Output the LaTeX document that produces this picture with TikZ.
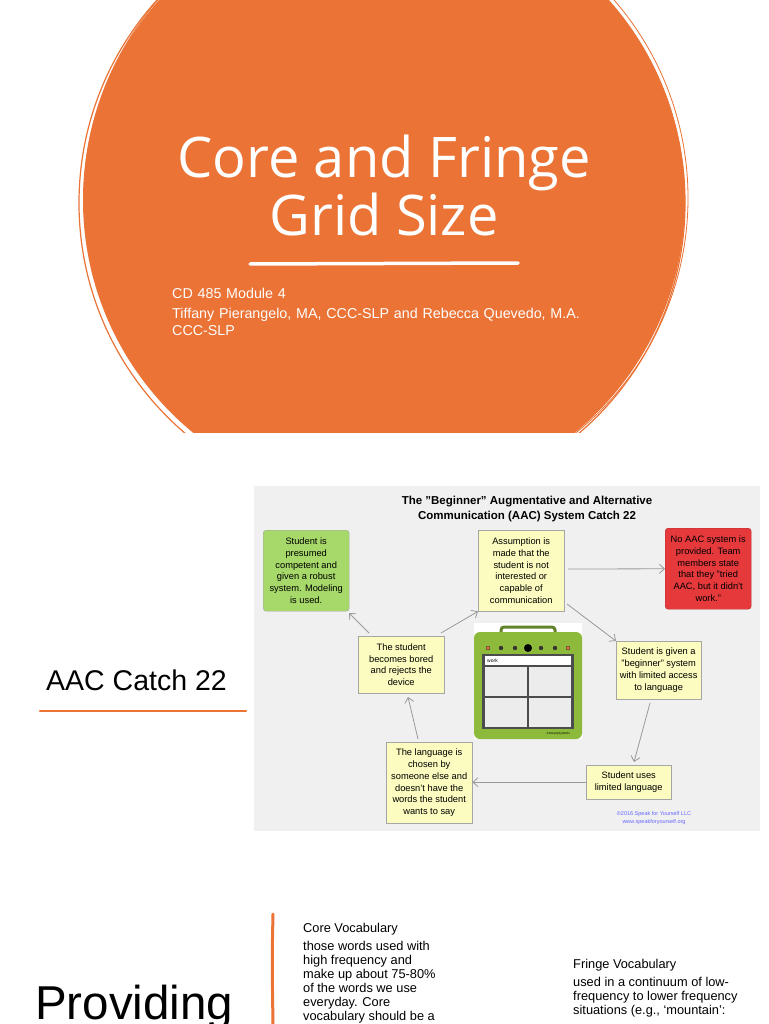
\documentclass[tikz,border=0pt]{standalone}
\usepackage{fontspec}
\setmainfont{Liberation Sans}
\newfontfamily\titlefont{Open Sans}
\usetikzlibrary{arrows.meta}
\definecolor{org}{HTML}{EA7335}
\definecolor{bx}{HTML}{FCFCC0}
\definecolor{gr}{HTML}{A6D86A}
\definecolor{rd}{HTML}{E5393C}
\definecolor{dev}{HTML}{8DBA3A}
\begin{document}
\begin{tikzpicture}[x=1pt,y=-1pt,
 box/.style={draw=gray!70,fill=bx,align=center,font=\fontsize{9.3}{11.8}\selectfont,inner sep=0pt,anchor=north west},
 arr/.style={draw=gray!80,line width=0.8pt,-{Straight Barb[length=5pt,width=9pt]}}]
\useasboundingbox (0,0) rectangle (768,1024);
\fill[white] (0,0) rectangle (768,1024);
% slide 1
\begin{scope}
\clip (0,0) rectangle (768,432);
\fill[org] (384,200) circle (301);
\draw[org,line width=1.2pt] (382,203) circle (303);
\draw[org,line width=0.8pt] (386,198) circle (302);
\end{scope}
\node[white,font=\titlefont\fontsize{56}{58}\selectfont,align=center] (t) at (384,186) {Core and Fringe\\Grid Size};
\draw[white,line width=3.5pt,line cap=round] (250,264) -- (518,263);
\node[white,font=\fontsize{14.3}{17}\selectfont,align=left,anchor=north west,text width=440pt,inner sep=0] (s) at (172,288)
 {CD 485 Module 4\\[3pt]Tiffany Pierangelo, MA, CCC-SLP and Rebecca Quevedo, M.A.\\CCC-SLP};
% slide 2
\node[font=\fontsize{28.5}{32}\selectfont,anchor=west,inner sep=0] (aac) at (46,680) {AAC Catch 22};
\draw[org,line width=2.5pt,line cap=round] (40,711) -- (246,711);
\fill[gray!12] (254,486) rectangle (760,831);
\node[font=\bfseries\fontsize{11.5}{15}\selectfont,align=center] (tt) at (527,509) {The "Beginner" Augmentative and Alternative\\Communication (AAC) System Catch 22};
\node[box,fill=gr,rounded corners=3pt,minimum width=86pt,minimum height=81pt] (g) at (263,530) {Student is\\presumed\\competent and\\given a robust\\system. Modeling\\is used.};
\node[box,minimum width=86pt,minimum height=81pt] (a) at (478,530) {Assumption is\\made that the\\student is not\\interested or\\capable of\\communication};
\node[box,fill=rd,draw=rd!80!black,rounded corners=3pt,minimum width=86pt,minimum height=81pt] (r) at (665,528) {No AAC system is\\provided. Team\\members state\\that they "tried\\AAC, but it didn't\\work."};
\node[box,minimum width=86pt,minimum height=57pt] (b) at (358,636) {The student\\becomes bored\\and rejects the\\device};
\node[box,minimum width=85pt,minimum height=58pt] (gv) at (616,641) {Student is given a\\"beginner" system\\with limited access\\to language};
\node[box,minimum width=85pt,minimum height=34pt] (u) at (586,765) {Student uses\\limited language};
\node[box,minimum width=86pt,minimum height=81pt] (l) at (386,742) {The language is\\chosen by\\someone else and\\doesn't have the\\words the student\\wants to say};
% device
\fill[white] (474,623) rectangle (582,739);
\draw[dev!70!black,line width=3pt,rounded corners=3pt] (501,634) -- (501,627) -- (555,627) -- (555,634);
\fill[dev,rounded corners=6pt] (474,632) rectangle (582,739);
\foreach \x in {488,501,515,528,541,555,568}{\fill[black!80] (\x,648) circle (2.2);}
\fill[black] (528,648) circle (4);
\fill[org] (488,648) circle (1.8); \fill[org] (568,648) circle (1.8);
\fill[black!70] (482,654) rectangle (574,729);
\fill[white] (485,656) rectangle (571,665);
\node[font=\fontsize{5}{6}\selectfont,anchor=west,inner sep=0] (w) at (487,660.5) {work};
\foreach \x/\y in {485/667,529/667,485/698,529/698}{\fill[gray!15] (\x,\y) rectangle ++(42,29);}
\node[font=\fontsize{3}{4}\selectfont,inner sep=0,anchor=east] (cs) at (570,734) {\textcopyright SmartySymbols};
\node[font=\fontsize{5.5}{7.5}\selectfont,text=blue!60,align=center] (cp) at (654,818) {\textcopyright 2016 Speak for Yourself LLC\\www.speakforyourself.org};
\draw[arr] (568,569) -- (r);
\draw[arr] (567,604) -- (gv.north west);
\draw[arr] (650,703) -- (634,762);
\draw[arr] (u.west) -- (l.east|-u.west);
\draw[arr] (418,739) -- (408,697);
\draw[arr] (441,633) -- (a.south west);
\draw[arr] (369,633) -- (349,613);
% slide 3
\draw[org,line width=3pt,line cap=round] (273,914) .. controls (272,960) .. (273,1024);
\node[font=\fontsize{47.5}{52}\selectfont,anchor=west,inner sep=0] (p) at (35,1007) {Providing};
\node[font=\fontsize{12.8}{14}\selectfont,anchor=north west,align=left,inner sep=0] (cv) at (303,923) {Core Vocabulary};
\node[font=\fontsize{12.8}{14}\selectfont,anchor=north west,align=left,inner sep=0] (cvt) at (303,941) {those words used with\\high frequency and\\make up about 75-80\%\\of the words we use\\everyday. Core\\vocabulary should be a};
\node[font=\fontsize{12.8}{14}\selectfont,anchor=north west,align=left,inner sep=0] (fv) at (573,959) {Fringe Vocabulary};
\node[font=\fontsize{12.8}{14}\selectfont,anchor=north west,align=left,inner sep=0] (fvt) at (573,977) {used in a continuum of low-\\frequency to lower frequency\\situations (e.g., `mountain':};
\end{tikzpicture}
\end{document}
